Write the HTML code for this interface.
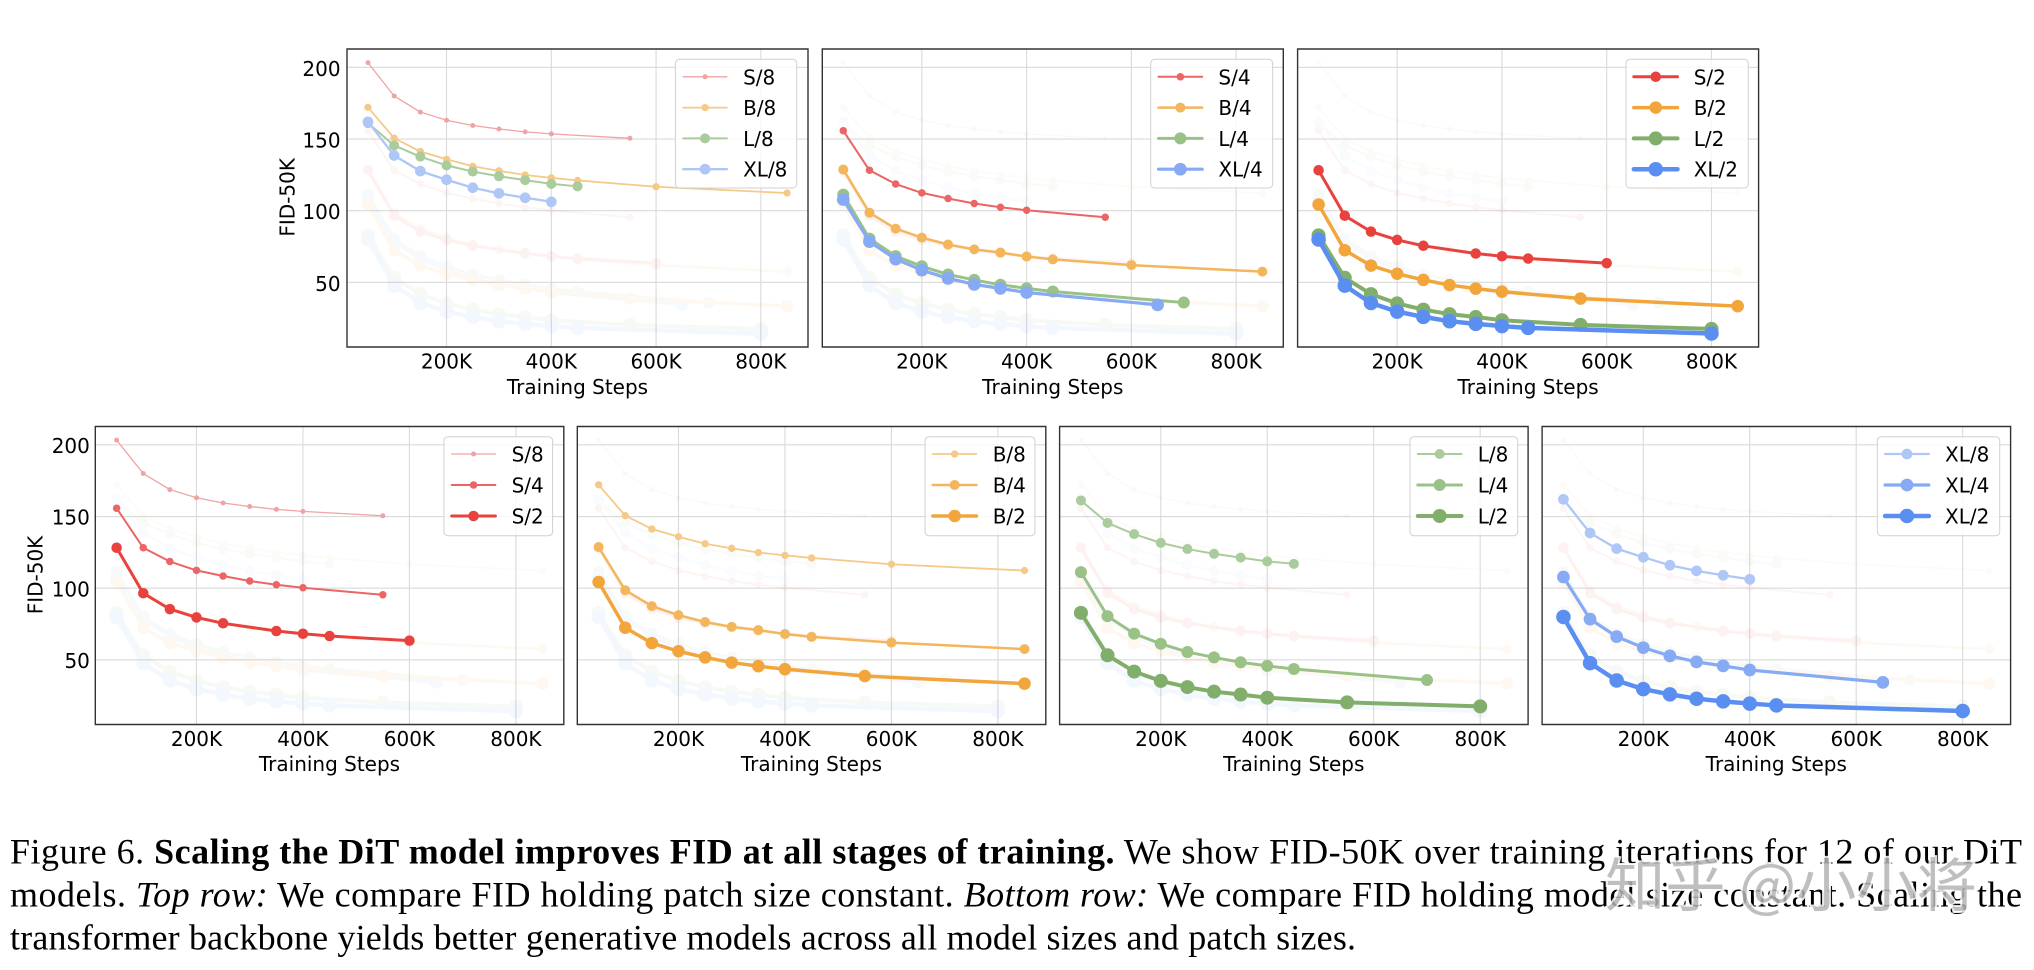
<!DOCTYPE html>
<html><head><meta charset="utf-8"><style>
html,body{margin:0;padding:0;background:#fff}
svg{display:block}
path{fill:none;vector-effect:non-scaling-stroke;stroke-linecap:round;stroke-linejoin:round}
.g{stroke:#dadada;stroke-width:1.1;stroke-linecap:butt}
.fr{stroke:#333;stroke-width:1.4;stroke-linecap:square;stroke-linejoin:miter}
.f{opacity:.065}
.s8{stroke:#f0a3a3;stroke-width:1.3}.s8m{stroke:#f0a3a3;stroke-width:5}
.s4{stroke:#eb6565;stroke-width:2}.s4m{stroke:#eb6565;stroke-width:7.5}
.s2{stroke:#e8423f;stroke-width:3}.s2m{stroke:#e8423f;stroke-width:10.5}
.b8{stroke:#f5ca88;stroke-width:1.8}.b8m{stroke:#f5ca88;stroke-width:7.3}
.b4{stroke:#f3b65c;stroke-width:2.5}.b4m{stroke:#f3b65c;stroke-width:10}
.b2{stroke:#f2a53b;stroke-width:3.5}.b2m{stroke:#f2a53b;stroke-width:12.5}
.l8{stroke:#aacb9c;stroke-width:2}.l8m{stroke:#aacb9c;stroke-width:10}
.l4{stroke:#9ac287;stroke-width:3}.l4m{stroke:#9ac287;stroke-width:12}
.l2{stroke:#82ae6b;stroke-width:4}.l2m{stroke:#82ae6b;stroke-width:14}
.x8{stroke:#aec7f7;stroke-width:2.3}.x8m{stroke:#aec7f7;stroke-width:10.7}
.x4{stroke:#86aaf4;stroke-width:3.2}.x4m{stroke:#86aaf4;stroke-width:12.7}
.x2{stroke:#5b8ef1;stroke-width:4.5}.x2m{stroke:#5b8ef1;stroke-width:14.5}
.t{font-family:"DejaVu Sans","Liberation Sans",sans-serif;font-size:20px;fill:#000}
.lg{fill:#fff;fill-opacity:.8;stroke:#d0d0d0;stroke-width:1}
.cap{font-family:"Liberation Serif","Times New Roman",serif;font-size:36px;fill:#000}
</style></head><body>
<svg width="2034" height="970" viewBox="0 0 2034 970" xmlns="http://www.w3.org/2000/svg">
<rect width="2034" height="970" fill="#fff"/>

<!-- ===== Panel 1 ===== -->
<g transform="matrix(0.523864 0 0 -1.43338 341.76 354.02)">
<path class="g" d="M200 4.9V212.8M400 4.9V212.8M600 4.9V212.8M800 4.9V212.8M10 200H890M10 150H890M10 100H890M10 50H890"/>
<g class="f">
<path class="s4" d="M50 155.8L100 128.2L150 118.6L200 112.4L250 108.5L300 105L350 102.4L400 100.3L550 95.4"/><path class="s4m" d="M50 155.8h.1M100 128.2h.1M150 118.6h.1M200 112.4h.1M250 108.5h.1M300 105h.1M350 102.4h.1M400 100.3h.1M550 95.4h.1"/>
<path class="b4" d="M50 128.7L100 98.6L150 87.5L200 81.2L250 76.4L300 73L350 70.8L400 68L450 66L600 62L850 57.5"/><path class="b4m" d="M50 128.7h.1M100 98.6h.1M150 87.5h.1M200 81.2h.1M250 76.4h.1M300 73h.1M350 70.8h.1M400 68h.1M450 66h.1M600 62h.1M850 57.5h.1"/>
<path class="l4" d="M50 111.2L100 80.5L150 68.3L200 61.2L250 55.5L300 51.7L350 48.3L400 45.8L450 43.6L700 35.9"/><path class="l4m" d="M50 111.2h.1M100 80.5h.1M150 68.3h.1M200 61.2h.1M250 55.5h.1M300 51.7h.1M350 48.3h.1M400 45.8h.1M450 43.6h.1M700 35.9h.1"/>
<path class="x4" d="M50 107.8L100 78.4L150 66.2L200 58.5L250 52.8L300 48.6L350 45.8L400 42.9L650 34.3"/><path class="x4m" d="M50 107.8h.1M100 78.4h.1M150 66.2h.1M200 58.5h.1M250 52.8h.1M300 48.6h.1M350 45.8h.1M400 42.9h.1M650 34.3h.1"/>
<path class="s2" d="M50 128.2L100 96.5L150 85.4L200 79.6L250 75.5L350 70.1L400 68.2L450 66.6L600 63.4"/><path class="s2m" d="M50 128.2h.1M100 96.5h.1M150 85.4h.1M200 79.6h.1M250 75.5h.1M350 70.1h.1M400 68.2h.1M450 66.6h.1M600 63.4h.1"/>
<path class="b2" d="M50 104.3L100 72.4L150 61.7L200 56L250 51.7L300 48.1L350 45.6L400 43.5L550 38.7L850 33.4"/><path class="b2m" d="M50 104.3h.1M100 72.4h.1M150 61.7h.1M200 56h.1M250 51.7h.1M300 48.1h.1M350 45.6h.1M400 43.5h.1M550 38.7h.1M850 33.4h.1"/>
<path class="l2" d="M50 82.8L100 53.2L150 41.8L200 35.3L250 31L300 27.8L350 25.8L400 23.6L550 20.3L800 17.5"/><path class="l2m" d="M50 82.8h.1M100 53.2h.1M150 41.8h.1M200 35.3h.1M250 31h.1M300 27.8h.1M350 25.8h.1M400 23.6h.1M550 20.3h.1M800 17.5h.1"/>
<path class="x2" d="M50 79.9L100 47.7L150 35.6L200 29.6L250 25.9L300 22.9L350 21L400 19.5L450 18.2L800 14.3"/><path class="x2m" d="M50 79.9h.1M100 47.7h.1M150 35.6h.1M200 29.6h.1M250 25.9h.1M300 22.9h.1M350 21h.1M400 19.5h.1M450 18.2h.1M800 14.3h.1"/>
</g>
<path class="s8" d="M50 203.3L100 180L150 168.8L200 163.1L250 159.4L300 157L350 155L400 153.6L550 150.5"/><path class="s8m" d="M50 203.3h.1M100 180h.1M150 168.8h.1M200 163.1h.1M250 159.4h.1M300 157h.1M350 155h.1M400 153.6h.1M550 150.5h.1"/>
<path class="b8" d="M50 172.1L100 150.6L150 141.3L200 135.9L250 131L300 127.8L350 124.9L400 122.9L450 121.1L600 116.7L850 112.3"/><path class="b8m" d="M50 172.1h.1M100 150.6h.1M150 141.3h.1M200 135.9h.1M250 131h.1M300 127.8h.1M350 124.9h.1M400 122.9h.1M450 121.1h.1M600 116.7h.1M850 112.3h.1"/>
<path class="l8" d="M50 161.2L100 145.5L150 137.7L200 131.6L250 127.3L300 124L350 121.3L400 118.7L450 117"/><path class="l8m" d="M50 161.2h.1M100 145.5h.1M150 137.7h.1M200 131.6h.1M250 127.3h.1M300 124h.1M350 121.3h.1M400 118.7h.1M450 117h.1"/>
<path class="x8" d="M50 162L100 138.5L150 127.6L200 121.6L250 116L300 112.1L350 109L400 106.2"/><path class="x8m" d="M50 162h.1M100 138.5h.1M150 127.6h.1M200 121.6h.1M250 116h.1M300 112.1h.1M350 109h.1M400 106.2h.1"/>
<path class="fr" d="M10 4.9H890V212.8H10Z"/>
</g>

<!-- ===== Panel 2 ===== -->
<g transform="matrix(0.523864 0 0 -1.43338 817.06 354.02)">
<path class="g" d="M200 4.9V212.8M400 4.9V212.8M600 4.9V212.8M800 4.9V212.8M10 200H890M10 150H890M10 100H890M10 50H890"/>
<g class="f">
<path class="s8" d="M50 203.3L100 180L150 168.8L200 163.1L250 159.4L300 157L350 155L400 153.6L550 150.5"/><path class="s8m" d="M50 203.3h.1M100 180h.1M150 168.8h.1M200 163.1h.1M250 159.4h.1M300 157h.1M350 155h.1M400 153.6h.1M550 150.5h.1"/>
<path class="b8" d="M50 172.1L100 150.6L150 141.3L200 135.9L250 131L300 127.8L350 124.9L400 122.9L450 121.1L600 116.7L850 112.3"/><path class="b8m" d="M50 172.1h.1M100 150.6h.1M150 141.3h.1M200 135.9h.1M250 131h.1M300 127.8h.1M350 124.9h.1M400 122.9h.1M450 121.1h.1M600 116.7h.1M850 112.3h.1"/>
<path class="l8" d="M50 161.2L100 145.5L150 137.7L200 131.6L250 127.3L300 124L350 121.3L400 118.7L450 117"/><path class="l8m" d="M50 161.2h.1M100 145.5h.1M150 137.7h.1M200 131.6h.1M250 127.3h.1M300 124h.1M350 121.3h.1M400 118.7h.1M450 117h.1"/>
<path class="x8" d="M50 162L100 138.5L150 127.6L200 121.6L250 116L300 112.1L350 109L400 106.2"/><path class="x8m" d="M50 162h.1M100 138.5h.1M150 127.6h.1M200 121.6h.1M250 116h.1M300 112.1h.1M350 109h.1M400 106.2h.1"/>
<path class="s2" d="M50 128.2L100 96.5L150 85.4L200 79.6L250 75.5L350 70.1L400 68.2L450 66.6L600 63.4"/><path class="s2m" d="M50 128.2h.1M100 96.5h.1M150 85.4h.1M200 79.6h.1M250 75.5h.1M350 70.1h.1M400 68.2h.1M450 66.6h.1M600 63.4h.1"/>
<path class="b2" d="M50 104.3L100 72.4L150 61.7L200 56L250 51.7L300 48.1L350 45.6L400 43.5L550 38.7L850 33.4"/><path class="b2m" d="M50 104.3h.1M100 72.4h.1M150 61.7h.1M200 56h.1M250 51.7h.1M300 48.1h.1M350 45.6h.1M400 43.5h.1M550 38.7h.1M850 33.4h.1"/>
<path class="l2" d="M50 82.8L100 53.2L150 41.8L200 35.3L250 31L300 27.8L350 25.8L400 23.6L550 20.3L800 17.5"/><path class="l2m" d="M50 82.8h.1M100 53.2h.1M150 41.8h.1M200 35.3h.1M250 31h.1M300 27.8h.1M350 25.8h.1M400 23.6h.1M550 20.3h.1M800 17.5h.1"/>
<path class="x2" d="M50 79.9L100 47.7L150 35.6L200 29.6L250 25.9L300 22.9L350 21L400 19.5L450 18.2L800 14.3"/><path class="x2m" d="M50 79.9h.1M100 47.7h.1M150 35.6h.1M200 29.6h.1M250 25.9h.1M300 22.9h.1M350 21h.1M400 19.5h.1M450 18.2h.1M800 14.3h.1"/>
</g>
<path class="s4" d="M50 155.8L100 128.2L150 118.6L200 112.4L250 108.5L300 105L350 102.4L400 100.3L550 95.4"/><path class="s4m" d="M50 155.8h.1M100 128.2h.1M150 118.6h.1M200 112.4h.1M250 108.5h.1M300 105h.1M350 102.4h.1M400 100.3h.1M550 95.4h.1"/>
<path class="b4" d="M50 128.7L100 98.6L150 87.5L200 81.2L250 76.4L300 73L350 70.8L400 68L450 66L600 62L850 57.5"/><path class="b4m" d="M50 128.7h.1M100 98.6h.1M150 87.5h.1M200 81.2h.1M250 76.4h.1M300 73h.1M350 70.8h.1M400 68h.1M450 66h.1M600 62h.1M850 57.5h.1"/>
<path class="l4" d="M50 111.2L100 80.5L150 68.3L200 61.2L250 55.5L300 51.7L350 48.3L400 45.8L450 43.6L700 35.9"/><path class="l4m" d="M50 111.2h.1M100 80.5h.1M150 68.3h.1M200 61.2h.1M250 55.5h.1M300 51.7h.1M350 48.3h.1M400 45.8h.1M450 43.6h.1M700 35.9h.1"/>
<path class="x4" d="M50 107.8L100 78.4L150 66.2L200 58.5L250 52.8L300 48.6L350 45.8L400 42.9L650 34.3"/><path class="x4m" d="M50 107.8h.1M100 78.4h.1M150 66.2h.1M200 58.5h.1M250 52.8h.1M300 48.6h.1M350 45.8h.1M400 42.9h.1M650 34.3h.1"/>
<path class="fr" d="M10 4.9H890V212.8H10Z"/>
</g>

<!-- ===== Panel 3 ===== -->
<g transform="matrix(0.523864 0 0 -1.43338 1292.36 354.02)">
<path class="g" d="M200 4.9V212.8M400 4.9V212.8M600 4.9V212.8M800 4.9V212.8M10 200H890M10 150H890M10 100H890M10 50H890"/>
<g class="f">
<path class="s8" d="M50 203.3L100 180L150 168.8L200 163.1L250 159.4L300 157L350 155L400 153.6L550 150.5"/><path class="s8m" d="M50 203.3h.1M100 180h.1M150 168.8h.1M200 163.1h.1M250 159.4h.1M300 157h.1M350 155h.1M400 153.6h.1M550 150.5h.1"/>
<path class="b8" d="M50 172.1L100 150.6L150 141.3L200 135.9L250 131L300 127.8L350 124.9L400 122.9L450 121.1L600 116.7L850 112.3"/><path class="b8m" d="M50 172.1h.1M100 150.6h.1M150 141.3h.1M200 135.9h.1M250 131h.1M300 127.8h.1M350 124.9h.1M400 122.9h.1M450 121.1h.1M600 116.7h.1M850 112.3h.1"/>
<path class="l8" d="M50 161.2L100 145.5L150 137.7L200 131.6L250 127.3L300 124L350 121.3L400 118.7L450 117"/><path class="l8m" d="M50 161.2h.1M100 145.5h.1M150 137.7h.1M200 131.6h.1M250 127.3h.1M300 124h.1M350 121.3h.1M400 118.7h.1M450 117h.1"/>
<path class="x8" d="M50 162L100 138.5L150 127.6L200 121.6L250 116L300 112.1L350 109L400 106.2"/><path class="x8m" d="M50 162h.1M100 138.5h.1M150 127.6h.1M200 121.6h.1M250 116h.1M300 112.1h.1M350 109h.1M400 106.2h.1"/>
<path class="s4" d="M50 155.8L100 128.2L150 118.6L200 112.4L250 108.5L300 105L350 102.4L400 100.3L550 95.4"/><path class="s4m" d="M50 155.8h.1M100 128.2h.1M150 118.6h.1M200 112.4h.1M250 108.5h.1M300 105h.1M350 102.4h.1M400 100.3h.1M550 95.4h.1"/>
<path class="b4" d="M50 128.7L100 98.6L150 87.5L200 81.2L250 76.4L300 73L350 70.8L400 68L450 66L600 62L850 57.5"/><path class="b4m" d="M50 128.7h.1M100 98.6h.1M150 87.5h.1M200 81.2h.1M250 76.4h.1M300 73h.1M350 70.8h.1M400 68h.1M450 66h.1M600 62h.1M850 57.5h.1"/>
<path class="l4" d="M50 111.2L100 80.5L150 68.3L200 61.2L250 55.5L300 51.7L350 48.3L400 45.8L450 43.6L700 35.9"/><path class="l4m" d="M50 111.2h.1M100 80.5h.1M150 68.3h.1M200 61.2h.1M250 55.5h.1M300 51.7h.1M350 48.3h.1M400 45.8h.1M450 43.6h.1M700 35.9h.1"/>
<path class="x4" d="M50 107.8L100 78.4L150 66.2L200 58.5L250 52.8L300 48.6L350 45.8L400 42.9L650 34.3"/><path class="x4m" d="M50 107.8h.1M100 78.4h.1M150 66.2h.1M200 58.5h.1M250 52.8h.1M300 48.6h.1M350 45.8h.1M400 42.9h.1M650 34.3h.1"/>
</g>
<path class="s2" d="M50 128.2L100 96.5L150 85.4L200 79.6L250 75.5L350 70.1L400 68.2L450 66.6L600 63.4"/><path class="s2m" d="M50 128.2h.1M100 96.5h.1M150 85.4h.1M200 79.6h.1M250 75.5h.1M350 70.1h.1M400 68.2h.1M450 66.6h.1M600 63.4h.1"/>
<path class="b2" d="M50 104.3L100 72.4L150 61.7L200 56L250 51.7L300 48.1L350 45.6L400 43.5L550 38.7L850 33.4"/><path class="b2m" d="M50 104.3h.1M100 72.4h.1M150 61.7h.1M200 56h.1M250 51.7h.1M300 48.1h.1M350 45.6h.1M400 43.5h.1M550 38.7h.1M850 33.4h.1"/>
<path class="l2" d="M50 82.8L100 53.2L150 41.8L200 35.3L250 31L300 27.8L350 25.8L400 23.6L550 20.3L800 17.5"/><path class="l2m" d="M50 82.8h.1M100 53.2h.1M150 41.8h.1M200 35.3h.1M250 31h.1M300 27.8h.1M350 25.8h.1M400 23.6h.1M550 20.3h.1M800 17.5h.1"/>
<path class="x2" d="M50 79.9L100 47.7L150 35.6L200 29.6L250 25.9L300 22.9L350 21L400 19.5L450 18.2L800 14.3"/><path class="x2m" d="M50 79.9h.1M100 47.7h.1M150 35.6h.1M200 29.6h.1M250 25.9h.1M300 22.9h.1M350 21h.1M400 19.5h.1M450 18.2h.1M800 14.3h.1"/>
<path class="fr" d="M10 4.9H890V212.8H10Z"/>
</g>

<!-- ===== Panel 4 (S) ===== -->
<g transform="matrix(0.532386 0 0 -1.43338 89.98 731.52)">
<path class="g" d="M200 4.9V212.8M400 4.9V212.8M600 4.9V212.8M800 4.9V212.8M10 200H890M10 150H890M10 100H890M10 50H890"/>
<g class="f">
<path class="b8" d="M50 172.1L100 150.6L150 141.3L200 135.9L250 131L300 127.8L350 124.9L400 122.9L450 121.1L600 116.7L850 112.3"/><path class="b8m" d="M50 172.1h.1M100 150.6h.1M150 141.3h.1M200 135.9h.1M250 131h.1M300 127.8h.1M350 124.9h.1M400 122.9h.1M450 121.1h.1M600 116.7h.1M850 112.3h.1"/>
<path class="l8" d="M50 161.2L100 145.5L150 137.7L200 131.6L250 127.3L300 124L350 121.3L400 118.7L450 117"/><path class="l8m" d="M50 161.2h.1M100 145.5h.1M150 137.7h.1M200 131.6h.1M250 127.3h.1M300 124h.1M350 121.3h.1M400 118.7h.1M450 117h.1"/>
<path class="x8" d="M50 162L100 138.5L150 127.6L200 121.6L250 116L300 112.1L350 109L400 106.2"/><path class="x8m" d="M50 162h.1M100 138.5h.1M150 127.6h.1M200 121.6h.1M250 116h.1M300 112.1h.1M350 109h.1M400 106.2h.1"/>
<path class="b4" d="M50 128.7L100 98.6L150 87.5L200 81.2L250 76.4L300 73L350 70.8L400 68L450 66L600 62L850 57.5"/><path class="b4m" d="M50 128.7h.1M100 98.6h.1M150 87.5h.1M200 81.2h.1M250 76.4h.1M300 73h.1M350 70.8h.1M400 68h.1M450 66h.1M600 62h.1M850 57.5h.1"/>
<path class="l4" d="M50 111.2L100 80.5L150 68.3L200 61.2L250 55.5L300 51.7L350 48.3L400 45.8L450 43.6L700 35.9"/><path class="l4m" d="M50 111.2h.1M100 80.5h.1M150 68.3h.1M200 61.2h.1M250 55.5h.1M300 51.7h.1M350 48.3h.1M400 45.8h.1M450 43.6h.1M700 35.9h.1"/>
<path class="x4" d="M50 107.8L100 78.4L150 66.2L200 58.5L250 52.8L300 48.6L350 45.8L400 42.9L650 34.3"/><path class="x4m" d="M50 107.8h.1M100 78.4h.1M150 66.2h.1M200 58.5h.1M250 52.8h.1M300 48.6h.1M350 45.8h.1M400 42.9h.1M650 34.3h.1"/>
<path class="b2" d="M50 104.3L100 72.4L150 61.7L200 56L250 51.7L300 48.1L350 45.6L400 43.5L550 38.7L850 33.4"/><path class="b2m" d="M50 104.3h.1M100 72.4h.1M150 61.7h.1M200 56h.1M250 51.7h.1M300 48.1h.1M350 45.6h.1M400 43.5h.1M550 38.7h.1M850 33.4h.1"/>
<path class="l2" d="M50 82.8L100 53.2L150 41.8L200 35.3L250 31L300 27.8L350 25.8L400 23.6L550 20.3L800 17.5"/><path class="l2m" d="M50 82.8h.1M100 53.2h.1M150 41.8h.1M200 35.3h.1M250 31h.1M300 27.8h.1M350 25.8h.1M400 23.6h.1M550 20.3h.1M800 17.5h.1"/>
<path class="x2" d="M50 79.9L100 47.7L150 35.6L200 29.6L250 25.9L300 22.9L350 21L400 19.5L450 18.2L800 14.3"/><path class="x2m" d="M50 79.9h.1M100 47.7h.1M150 35.6h.1M200 29.6h.1M250 25.9h.1M300 22.9h.1M350 21h.1M400 19.5h.1M450 18.2h.1M800 14.3h.1"/>
</g>
<path class="s8" d="M50 203.3L100 180L150 168.8L200 163.1L250 159.4L300 157L350 155L400 153.6L550 150.5"/><path class="s8m" d="M50 203.3h.1M100 180h.1M150 168.8h.1M200 163.1h.1M250 159.4h.1M300 157h.1M350 155h.1M400 153.6h.1M550 150.5h.1"/>
<path class="s4" d="M50 155.8L100 128.2L150 118.6L200 112.4L250 108.5L300 105L350 102.4L400 100.3L550 95.4"/><path class="s4m" d="M50 155.8h.1M100 128.2h.1M150 118.6h.1M200 112.4h.1M250 108.5h.1M300 105h.1M350 102.4h.1M400 100.3h.1M550 95.4h.1"/>
<path class="s2" d="M50 128.2L100 96.5L150 85.4L200 79.6L250 75.5L350 70.1L400 68.2L450 66.6L600 63.4"/><path class="s2m" d="M50 128.2h.1M100 96.5h.1M150 85.4h.1M200 79.6h.1M250 75.5h.1M350 70.1h.1M400 68.2h.1M450 66.6h.1M600 63.4h.1"/>
<path class="fr" d="M10 4.9H890V212.8H10Z"/>
</g>

<!-- ===== Panel 5 (B) ===== -->
<g transform="matrix(0.532386 0 0 -1.43338 571.98 731.52)">
<path class="g" d="M200 4.9V212.8M400 4.9V212.8M600 4.9V212.8M800 4.9V212.8M10 200H890M10 150H890M10 100H890M10 50H890"/>
<g class="f">
<path class="s8" d="M50 203.3L100 180L150 168.8L200 163.1L250 159.4L300 157L350 155L400 153.6L550 150.5"/><path class="s8m" d="M50 203.3h.1M100 180h.1M150 168.8h.1M200 163.1h.1M250 159.4h.1M300 157h.1M350 155h.1M400 153.6h.1M550 150.5h.1"/>
<path class="l8" d="M50 161.2L100 145.5L150 137.7L200 131.6L250 127.3L300 124L350 121.3L400 118.7L450 117"/><path class="l8m" d="M50 161.2h.1M100 145.5h.1M150 137.7h.1M200 131.6h.1M250 127.3h.1M300 124h.1M350 121.3h.1M400 118.7h.1M450 117h.1"/>
<path class="x8" d="M50 162L100 138.5L150 127.6L200 121.6L250 116L300 112.1L350 109L400 106.2"/><path class="x8m" d="M50 162h.1M100 138.5h.1M150 127.6h.1M200 121.6h.1M250 116h.1M300 112.1h.1M350 109h.1M400 106.2h.1"/>
<path class="s4" d="M50 155.8L100 128.2L150 118.6L200 112.4L250 108.5L300 105L350 102.4L400 100.3L550 95.4"/><path class="s4m" d="M50 155.8h.1M100 128.2h.1M150 118.6h.1M200 112.4h.1M250 108.5h.1M300 105h.1M350 102.4h.1M400 100.3h.1M550 95.4h.1"/>
<path class="l4" d="M50 111.2L100 80.5L150 68.3L200 61.2L250 55.5L300 51.7L350 48.3L400 45.8L450 43.6L700 35.9"/><path class="l4m" d="M50 111.2h.1M100 80.5h.1M150 68.3h.1M200 61.2h.1M250 55.5h.1M300 51.7h.1M350 48.3h.1M400 45.8h.1M450 43.6h.1M700 35.9h.1"/>
<path class="x4" d="M50 107.8L100 78.4L150 66.2L200 58.5L250 52.8L300 48.6L350 45.8L400 42.9L650 34.3"/><path class="x4m" d="M50 107.8h.1M100 78.4h.1M150 66.2h.1M200 58.5h.1M250 52.8h.1M300 48.6h.1M350 45.8h.1M400 42.9h.1M650 34.3h.1"/>
<path class="s2" d="M50 128.2L100 96.5L150 85.4L200 79.6L250 75.5L350 70.1L400 68.2L450 66.6L600 63.4"/><path class="s2m" d="M50 128.2h.1M100 96.5h.1M150 85.4h.1M200 79.6h.1M250 75.5h.1M350 70.1h.1M400 68.2h.1M450 66.6h.1M600 63.4h.1"/>
<path class="l2" d="M50 82.8L100 53.2L150 41.8L200 35.3L250 31L300 27.8L350 25.8L400 23.6L550 20.3L800 17.5"/><path class="l2m" d="M50 82.8h.1M100 53.2h.1M150 41.8h.1M200 35.3h.1M250 31h.1M300 27.8h.1M350 25.8h.1M400 23.6h.1M550 20.3h.1M800 17.5h.1"/>
<path class="x2" d="M50 79.9L100 47.7L150 35.6L200 29.6L250 25.9L300 22.9L350 21L400 19.5L450 18.2L800 14.3"/><path class="x2m" d="M50 79.9h.1M100 47.7h.1M150 35.6h.1M200 29.6h.1M250 25.9h.1M300 22.9h.1M350 21h.1M400 19.5h.1M450 18.2h.1M800 14.3h.1"/>
</g>
<path class="b8" d="M50 172.1L100 150.6L150 141.3L200 135.9L250 131L300 127.8L350 124.9L400 122.9L450 121.1L600 116.7L850 112.3"/><path class="b8m" d="M50 172.1h.1M100 150.6h.1M150 141.3h.1M200 135.9h.1M250 131h.1M300 127.8h.1M350 124.9h.1M400 122.9h.1M450 121.1h.1M600 116.7h.1M850 112.3h.1"/>
<path class="b4" d="M50 128.7L100 98.6L150 87.5L200 81.2L250 76.4L300 73L350 70.8L400 68L450 66L600 62L850 57.5"/><path class="b4m" d="M50 128.7h.1M100 98.6h.1M150 87.5h.1M200 81.2h.1M250 76.4h.1M300 73h.1M350 70.8h.1M400 68h.1M450 66h.1M600 62h.1M850 57.5h.1"/>
<path class="b2" d="M50 104.3L100 72.4L150 61.7L200 56L250 51.7L300 48.1L350 45.6L400 43.5L550 38.7L850 33.4"/><path class="b2m" d="M50 104.3h.1M100 72.4h.1M150 61.7h.1M200 56h.1M250 51.7h.1M300 48.1h.1M350 45.6h.1M400 43.5h.1M550 38.7h.1M850 33.4h.1"/>
<path class="fr" d="M10 4.9H890V212.8H10Z"/>
</g>

<!-- ===== Panel 6 (L) ===== -->
<g transform="matrix(0.532386 0 0 -1.43338 1054.28 731.52)">
<path class="g" d="M200 4.9V212.8M400 4.9V212.8M600 4.9V212.8M800 4.9V212.8M10 200H890M10 150H890M10 100H890M10 50H890"/>
<g class="f">
<path class="s8" d="M50 203.3L100 180L150 168.8L200 163.1L250 159.4L300 157L350 155L400 153.6L550 150.5"/><path class="s8m" d="M50 203.3h.1M100 180h.1M150 168.8h.1M200 163.1h.1M250 159.4h.1M300 157h.1M350 155h.1M400 153.6h.1M550 150.5h.1"/>
<path class="b8" d="M50 172.1L100 150.6L150 141.3L200 135.9L250 131L300 127.8L350 124.9L400 122.9L450 121.1L600 116.7L850 112.3"/><path class="b8m" d="M50 172.1h.1M100 150.6h.1M150 141.3h.1M200 135.9h.1M250 131h.1M300 127.8h.1M350 124.9h.1M400 122.9h.1M450 121.1h.1M600 116.7h.1M850 112.3h.1"/>
<path class="x8" d="M50 162L100 138.5L150 127.6L200 121.6L250 116L300 112.1L350 109L400 106.2"/><path class="x8m" d="M50 162h.1M100 138.5h.1M150 127.6h.1M200 121.6h.1M250 116h.1M300 112.1h.1M350 109h.1M400 106.2h.1"/>
<path class="s4" d="M50 155.8L100 128.2L150 118.6L200 112.4L250 108.5L300 105L350 102.4L400 100.3L550 95.4"/><path class="s4m" d="M50 155.8h.1M100 128.2h.1M150 118.6h.1M200 112.4h.1M250 108.5h.1M300 105h.1M350 102.4h.1M400 100.3h.1M550 95.4h.1"/>
<path class="b4" d="M50 128.7L100 98.6L150 87.5L200 81.2L250 76.4L300 73L350 70.8L400 68L450 66L600 62L850 57.5"/><path class="b4m" d="M50 128.7h.1M100 98.6h.1M150 87.5h.1M200 81.2h.1M250 76.4h.1M300 73h.1M350 70.8h.1M400 68h.1M450 66h.1M600 62h.1M850 57.5h.1"/>
<path class="x4" d="M50 107.8L100 78.4L150 66.2L200 58.5L250 52.8L300 48.6L350 45.8L400 42.9L650 34.3"/><path class="x4m" d="M50 107.8h.1M100 78.4h.1M150 66.2h.1M200 58.5h.1M250 52.8h.1M300 48.6h.1M350 45.8h.1M400 42.9h.1M650 34.3h.1"/>
<path class="s2" d="M50 128.2L100 96.5L150 85.4L200 79.6L250 75.5L350 70.1L400 68.2L450 66.6L600 63.4"/><path class="s2m" d="M50 128.2h.1M100 96.5h.1M150 85.4h.1M200 79.6h.1M250 75.5h.1M350 70.1h.1M400 68.2h.1M450 66.6h.1M600 63.4h.1"/>
<path class="b2" d="M50 104.3L100 72.4L150 61.7L200 56L250 51.7L300 48.1L350 45.6L400 43.5L550 38.7L850 33.4"/><path class="b2m" d="M50 104.3h.1M100 72.4h.1M150 61.7h.1M200 56h.1M250 51.7h.1M300 48.1h.1M350 45.6h.1M400 43.5h.1M550 38.7h.1M850 33.4h.1"/>
<path class="x2" d="M50 79.9L100 47.7L150 35.6L200 29.6L250 25.9L300 22.9L350 21L400 19.5L450 18.2L800 14.3"/><path class="x2m" d="M50 79.9h.1M100 47.7h.1M150 35.6h.1M200 29.6h.1M250 25.9h.1M300 22.9h.1M350 21h.1M400 19.5h.1M450 18.2h.1M800 14.3h.1"/>
</g>
<path class="l8" d="M50 161.2L100 145.5L150 137.7L200 131.6L250 127.3L300 124L350 121.3L400 118.7L450 117"/><path class="l8m" d="M50 161.2h.1M100 145.5h.1M150 137.7h.1M200 131.6h.1M250 127.3h.1M300 124h.1M350 121.3h.1M400 118.7h.1M450 117h.1"/>
<path class="l4" d="M50 111.2L100 80.5L150 68.3L200 61.2L250 55.5L300 51.7L350 48.3L400 45.8L450 43.6L700 35.9"/><path class="l4m" d="M50 111.2h.1M100 80.5h.1M150 68.3h.1M200 61.2h.1M250 55.5h.1M300 51.7h.1M350 48.3h.1M400 45.8h.1M450 43.6h.1M700 35.9h.1"/>
<path class="l2" d="M50 82.8L100 53.2L150 41.8L200 35.3L250 31L300 27.8L350 25.8L400 23.6L550 20.3L800 17.5"/><path class="l2m" d="M50 82.8h.1M100 53.2h.1M150 41.8h.1M200 35.3h.1M250 31h.1M300 27.8h.1M350 25.8h.1M400 23.6h.1M550 20.3h.1M800 17.5h.1"/>
<path class="fr" d="M10 4.9H890V212.8H10Z"/>
</g>

<!-- ===== Panel 7 (XL) ===== -->
<g transform="matrix(0.532386 0 0 -1.43338 1536.78 731.52)">
<path class="g" d="M200 4.9V212.8M400 4.9V212.8M600 4.9V212.8M800 4.9V212.8M10 200H890M10 150H890M10 100H890M10 50H890"/>
<g class="f">
<path class="s8" d="M50 203.3L100 180L150 168.8L200 163.1L250 159.4L300 157L350 155L400 153.6L550 150.5"/><path class="s8m" d="M50 203.3h.1M100 180h.1M150 168.8h.1M200 163.1h.1M250 159.4h.1M300 157h.1M350 155h.1M400 153.6h.1M550 150.5h.1"/>
<path class="b8" d="M50 172.1L100 150.6L150 141.3L200 135.9L250 131L300 127.8L350 124.9L400 122.9L450 121.1L600 116.7L850 112.3"/><path class="b8m" d="M50 172.1h.1M100 150.6h.1M150 141.3h.1M200 135.9h.1M250 131h.1M300 127.8h.1M350 124.9h.1M400 122.9h.1M450 121.1h.1M600 116.7h.1M850 112.3h.1"/>
<path class="l8" d="M50 161.2L100 145.5L150 137.7L200 131.6L250 127.3L300 124L350 121.3L400 118.7L450 117"/><path class="l8m" d="M50 161.2h.1M100 145.5h.1M150 137.7h.1M200 131.6h.1M250 127.3h.1M300 124h.1M350 121.3h.1M400 118.7h.1M450 117h.1"/>
<path class="s4" d="M50 155.8L100 128.2L150 118.6L200 112.4L250 108.5L300 105L350 102.4L400 100.3L550 95.4"/><path class="s4m" d="M50 155.8h.1M100 128.2h.1M150 118.6h.1M200 112.4h.1M250 108.5h.1M300 105h.1M350 102.4h.1M400 100.3h.1M550 95.4h.1"/>
<path class="b4" d="M50 128.7L100 98.6L150 87.5L200 81.2L250 76.4L300 73L350 70.8L400 68L450 66L600 62L850 57.5"/><path class="b4m" d="M50 128.7h.1M100 98.6h.1M150 87.5h.1M200 81.2h.1M250 76.4h.1M300 73h.1M350 70.8h.1M400 68h.1M450 66h.1M600 62h.1M850 57.5h.1"/>
<path class="l4" d="M50 111.2L100 80.5L150 68.3L200 61.2L250 55.5L300 51.7L350 48.3L400 45.8L450 43.6L700 35.9"/><path class="l4m" d="M50 111.2h.1M100 80.5h.1M150 68.3h.1M200 61.2h.1M250 55.5h.1M300 51.7h.1M350 48.3h.1M400 45.8h.1M450 43.6h.1M700 35.9h.1"/>
<path class="s2" d="M50 128.2L100 96.5L150 85.4L200 79.6L250 75.5L350 70.1L400 68.2L450 66.6L600 63.4"/><path class="s2m" d="M50 128.2h.1M100 96.5h.1M150 85.4h.1M200 79.6h.1M250 75.5h.1M350 70.1h.1M400 68.2h.1M450 66.6h.1M600 63.4h.1"/>
<path class="b2" d="M50 104.3L100 72.4L150 61.7L200 56L250 51.7L300 48.1L350 45.6L400 43.5L550 38.7L850 33.4"/><path class="b2m" d="M50 104.3h.1M100 72.4h.1M150 61.7h.1M200 56h.1M250 51.7h.1M300 48.1h.1M350 45.6h.1M400 43.5h.1M550 38.7h.1M850 33.4h.1"/>
<path class="l2" d="M50 82.8L100 53.2L150 41.8L200 35.3L250 31L300 27.8L350 25.8L400 23.6L550 20.3L800 17.5"/><path class="l2m" d="M50 82.8h.1M100 53.2h.1M150 41.8h.1M200 35.3h.1M250 31h.1M300 27.8h.1M350 25.8h.1M400 23.6h.1M550 20.3h.1M800 17.5h.1"/>
</g>
<path class="x8" d="M50 162L100 138.5L150 127.6L200 121.6L250 116L300 112.1L350 109L400 106.2"/><path class="x8m" d="M50 162h.1M100 138.5h.1M150 127.6h.1M200 121.6h.1M250 116h.1M300 112.1h.1M350 109h.1M400 106.2h.1"/>
<path class="x4" d="M50 107.8L100 78.4L150 66.2L200 58.5L250 52.8L300 48.6L350 45.8L400 42.9L650 34.3"/><path class="x4m" d="M50 107.8h.1M100 78.4h.1M150 66.2h.1M200 58.5h.1M250 52.8h.1M300 48.6h.1M350 45.8h.1M400 42.9h.1M650 34.3h.1"/>
<path class="x2" d="M50 79.9L100 47.7L150 35.6L200 29.6L250 25.9L300 22.9L350 21L400 19.5L450 18.2L800 14.3"/><path class="x2m" d="M50 79.9h.1M100 47.7h.1M150 35.6h.1M200 29.6h.1M250 25.9h.1M300 22.9h.1M350 21h.1M400 19.5h.1M450 18.2h.1M800 14.3h.1"/>
<path class="fr" d="M10 4.9H890V212.8H10Z"/>
</g>

<!-- ===== Legends ===== -->
<g>
<rect class="lg" x="675.4" y="59.3" width="121.3" height="128.7" rx="4"/>
<path class="s8" d="M683.2 76.8H726.9"/><path class="s8m" d="M705 76.8h.1"/>
<path class="b8" d="M683.2 107.6H726.9"/><path class="b8m" d="M705 107.6h.1"/>
<path class="l8" d="M683.2 138.4H726.9"/><path class="l8m" d="M705 138.4h.1"/>
<path class="x8" d="M683.2 169.2H726.9"/><path class="x8m" d="M705 169.2h.1"/>
<text class="t" x="743.1" y="84.3">S/8</text><text class="t" x="743.1" y="115.1">B/8</text><text class="t" x="743.1" y="145.9">L/8</text><text class="t" x="743.1" y="176.7">XL/8</text>

<rect class="lg" x="1150.7" y="59.3" width="122" height="128.7" rx="4"/>
<path class="s4" d="M1158.5 76.8H1202.2"/><path class="s4m" d="M1180.3 76.8h.1"/>
<path class="b4" d="M1158.5 107.6H1202.2"/><path class="b4m" d="M1180.3 107.6h.1"/>
<path class="l4" d="M1158.5 138.4H1202.2"/><path class="l4m" d="M1180.3 138.4h.1"/>
<path class="x4" d="M1158.5 169.2H1202.2"/><path class="x4m" d="M1180.3 169.2h.1"/>
<text class="t" x="1218.4" y="84.3">S/4</text><text class="t" x="1218.4" y="115.1">B/4</text><text class="t" x="1218.4" y="145.9">L/4</text><text class="t" x="1218.4" y="176.7">XL/4</text>

<rect class="lg" x="1626" y="59.3" width="122.3" height="128.7" rx="4"/>
<path class="s2" d="M1633.8 76.8H1677.5"/><path class="s2m" d="M1655.7 76.8h.1"/>
<path class="b2" d="M1633.8 107.6H1677.5"/><path class="b2m" d="M1655.7 107.6h.1"/>
<path class="l2" d="M1633.8 138.4H1677.5"/><path class="l2m" d="M1655.7 138.4h.1"/>
<path class="x2" d="M1633.8 169.2H1677.5"/><path class="x2m" d="M1655.7 169.2h.1"/>
<text class="t" x="1693.7" y="84.3">S/2</text><text class="t" x="1693.7" y="115.1">B/2</text><text class="t" x="1693.7" y="145.9">L/2</text><text class="t" x="1693.7" y="176.7">XL/2</text>

<rect class="lg" x="443.9" y="436.7" width="108.7" height="99" rx="4"/>
<path class="s8" d="M451.7 454H495.4"/><path class="s8m" d="M473.5 454h.1"/>
<path class="s4" d="M451.7 485H495.4"/><path class="s4m" d="M473.5 485h.1"/>
<path class="s2" d="M451.7 516H495.4"/><path class="s2m" d="M473.5 516h.1"/>
<text class="t" x="511.6" y="461.5">S/8</text><text class="t" x="511.6" y="492.5">S/4</text><text class="t" x="511.6" y="523.5">S/2</text>

<rect class="lg" x="925" y="436.7" width="110" height="99" rx="4"/>
<path class="b8" d="M932.8 454H976.5"/><path class="b8m" d="M954.6 454h.1"/>
<path class="b4" d="M932.8 485H976.5"/><path class="b4m" d="M954.6 485h.1"/>
<path class="b2" d="M932.8 516H976.5"/><path class="b2m" d="M954.6 516h.1"/>
<text class="t" x="992.7" y="461.5">B/8</text><text class="t" x="992.7" y="492.5">B/4</text><text class="t" x="992.7" y="523.5">B/2</text>

<rect class="lg" x="1410" y="436.7" width="107.7" height="99" rx="4"/>
<path class="l8" d="M1417.8 454H1461.5"/><path class="l8m" d="M1439.6 454h.1"/>
<path class="l4" d="M1417.8 485H1461.5"/><path class="l4m" d="M1439.6 485h.1"/>
<path class="l2" d="M1417.8 516H1461.5"/><path class="l2m" d="M1439.6 516h.1"/>
<text class="t" x="1477.7" y="461.5">L/8</text><text class="t" x="1477.7" y="492.5">L/4</text><text class="t" x="1477.7" y="523.5">L/2</text>

<rect class="lg" x="1877.3" y="436.7" width="122.4" height="99" rx="4"/>
<path class="x8" d="M1885.1 454H1928.8"/><path class="x8m" d="M1906.9 454h.1"/>
<path class="x4" d="M1885.1 485H1928.8"/><path class="x4m" d="M1906.9 485h.1"/>
<path class="x2" d="M1885.1 516H1928.8"/><path class="x2m" d="M1906.9 516h.1"/>
<text class="t" x="1945" y="461.5">XL/8</text><text class="t" x="1945" y="492.5">XL/4</text><text class="t" x="1945" y="523.5">XL/2</text>
</g>

<!-- ===== Axis tick labels ===== -->
<g class="t" text-anchor="middle">
<text x="446.5" y="368.3">200K</text><text x="551.3" y="368.3">400K</text><text x="656.1" y="368.3">600K</text><text x="760.9" y="368.3">800K</text>
<text x="921.8" y="368.3">200K</text><text x="1026.6" y="368.3">400K</text><text x="1131.4" y="368.3">600K</text><text x="1236.2" y="368.3">800K</text>
<text x="1397.1" y="368.3">200K</text><text x="1501.9" y="368.3">400K</text><text x="1606.7" y="368.3">600K</text><text x="1711.5" y="368.3">800K</text>
<text x="577.5" y="394">Training Steps</text><text x="1052.8" y="394">Training Steps</text><text x="1528.1" y="394">Training Steps</text>
<text x="196.5" y="746">200K</text><text x="302.9" y="746">400K</text><text x="409.4" y="746">600K</text><text x="515.9" y="746">800K</text>
<text x="678.5" y="746">200K</text><text x="784.9" y="746">400K</text><text x="891.4" y="746">600K</text><text x="997.9" y="746">800K</text>
<text x="1160.8" y="746">200K</text><text x="1267.2" y="746">400K</text><text x="1373.7" y="746">600K</text><text x="1480.2" y="746">800K</text>
<text x="1643.3" y="746">200K</text><text x="1749.7" y="746">400K</text><text x="1856.2" y="746">600K</text><text x="1962.7" y="746">800K</text>
<text x="329.5" y="771">Training Steps</text><text x="811.5" y="771">Training Steps</text><text x="1293.8" y="771">Training Steps</text><text x="1776.3" y="771">Training Steps</text>
<text transform="translate(294.4 197.3) rotate(-90)">FID-50K</text>
<text transform="translate(42.5 575) rotate(-90)">FID-50K</text>
</g>
<g class="t" text-anchor="end">
<text x="340.6" y="75.9">200</text><text x="340.6" y="147.5">150</text><text x="340.6" y="219.2">100</text><text x="340.6" y="290.9">50</text>
<text x="89.9" y="453">200</text><text x="89.9" y="524.7">150</text><text x="89.9" y="596.4">100</text><text x="89.9" y="668">50</text>
</g>

<!-- ===== Caption ===== -->
<text class="cap" x="10" y="863.3" textLength="2012" lengthAdjust="spacing">Figure 6. <tspan font-weight="bold">Scaling the DiT model improves FID at all stages of training.</tspan> We show FID-50K over training iterations for 12 of our DiT</text>
<text class="cap" x="10" y="906.6" textLength="2012" lengthAdjust="spacing">models. <tspan font-style="italic">Top row:</tspan> We compare FID holding patch size constant. <tspan font-style="italic">Bottom row:</tspan> We compare FID holding model size constant. Scaling the</text>
<text class="cap" x="10" y="949.6" textLength="1346" lengthAdjust="spacing">transformer backbone yields better generative models across all model sizes and patch sizes.</text>

<!-- watermark -->
<text x="1605" y="906" textLength="372" lengthAdjust="spacingAndGlyphs" font-family="'Noto Sans CJK SC','WenQuanYi Zen Hei',sans-serif" font-size="58" fill="#b5b5b5" stroke="#fff" stroke-width="4" paint-order="stroke" opacity="0.85">知乎 @小小将</text>
</svg>
</body></html>
